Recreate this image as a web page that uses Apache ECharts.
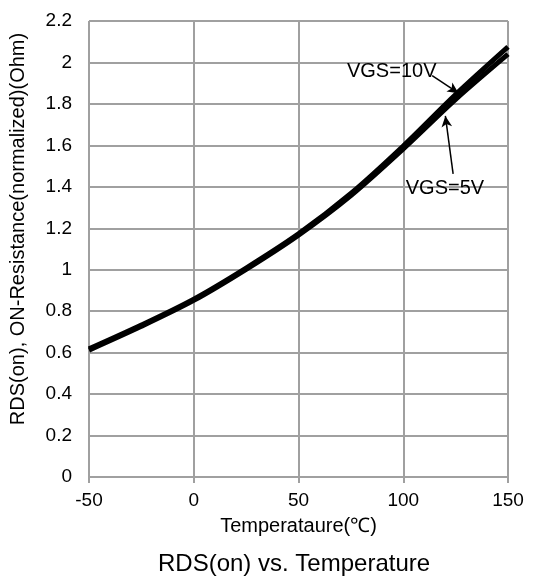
<!DOCTYPE html>
<html style="height: 100%">
<head>
  <meta charset="UTF-8">
  <title>RDS(on) vs. Temperature</title>
  <script src="https://cdn.jsdelivr.net/npm/echarts@6/dist/echarts.min.js"></script>
  <style>
    html, body {
      margin: 0;
      height: 100%;
      width: 100%;
      background: #fff;
    }
    #chart {
      width: 537px;
      height: 587px;
    }
  </style>
</head>
<body>
  <div id="chart"></div>
  <script>
    // data
    const temps = [-50, -25, 0, 25, 50, 75, 100, 125, 150];
    const vgs10 = [0.618, 0.733, 0.858, 1.008, 1.173, 1.368, 1.597, 1.845, 2.075];
    const vgs5 = [0.612, 0.727, 0.852, 1.002, 1.167, 1.358, 1.583, 1.822, 2.040];

    // annotation anchors in data units [temp, value]
    const label10 = [94.5, 1.955];
    const arrow10 = [[113.8, 1.936], [126.4, 1.852]];
    const label5 = [119.9, 1.391];
    const arrow5 = [[123.8, 1.462], [120.1, 1.742]];

    const font = 'Liberation Sans, Arial, sans-serif';
    const gridColor = '#a0a0a0';

    const pairs = (ys) => temps.map((t, i) => [t, ys[i]]);

    const chart = echarts.init(document.getElementById('chart'));
    chart.setOption({
      animation: false,
      textStyle: { fontFamily: font },
      title: {
        text: 'RDS(on) vs. Temperature',
        left: 153,
        top: 547,
        textStyle: { fontSize: 24, fontWeight: 'normal', color: '#000', fontFamily: font }
      },
      grid: { left: 86, top: 21, width: 422, height: 456 },
      xAxis: {
        type: 'value',
        min: -50,
        max: 150,
        interval: 50,
        name: 'Temperataure(℃)',
        nameLocation: 'middle',
        nameGap: 39,
        nameTextStyle: { fontSize: 20, color: '#000', fontFamily: font },
        axisLine: { lineStyle: { color: gridColor, width: 2 } },
        axisTick: { show: true, length: 6, lineStyle: { color: gridColor, width: 2 } },
        axisLabel: { fontSize: 19, color: '#000', margin: 14 },
        splitLine: { show: true, lineStyle: { color: gridColor, width: 2 } }
      },
      yAxis: {
        type: 'value',
        min: 0,
        max: 2.2,
        interval: 0.2,
        name: 'RDS(on), ON-Resistance(normalized)(Ohm)',
        nameLocation: 'middle',
        nameGap: 61,
        nameTextStyle: { fontSize: 20, color: '#000', fontFamily: font, padding: [0, 0, 0, 40] },
        axisLine: { show: true, lineStyle: { color: gridColor, width: 2 } },
        axisTick: { show: true, length: 6, lineStyle: { color: gridColor, width: 2 } },
        axisLabel: { fontSize: 19, color: '#000', margin: 17 },
        splitLine: { show: true, lineStyle: { color: gridColor, width: 2 } }
      },
      series: [
        {
          name: 'VGS=10V',
          type: 'line',
          data: pairs(vgs10),
          smooth: 0.3,
          showSymbol: false,
          lineStyle: { color: '#000', width: 5 },
          markLine: {
            silent: true,
            symbol: ['none', 'arrow'],
            symbolSize: [8, 11],
            label: { show: false },
            lineStyle: { color: '#000', width: 1.5, type: 'solid' },
            data: [[{ coord: arrow10[0] }, { coord: arrow10[1] }]]
          },
          markPoint: {
            silent: true,
            symbolSize: 0,
            label: { show: true, position: 'inside', formatter: 'VGS=10V', fontSize: 20, color: '#000', fontFamily: font },
            data: [{ coord: label10 }]
          }
        },
        {
          name: 'VGS=5V',
          type: 'line',
          data: pairs(vgs5),
          smooth: 0.3,
          showSymbol: false,
          lineStyle: { color: '#000', width: 5 },
          markLine: {
            silent: true,
            symbol: ['none', 'arrow'],
            symbolSize: [8, 11],
            label: { show: false },
            lineStyle: { color: '#000', width: 1.5, type: 'solid' },
            data: [[{ coord: arrow5[0] }, { coord: arrow5[1] }]]
          },
          markPoint: {
            silent: true,
            symbolSize: 0,
            label: { show: true, position: 'inside', formatter: 'VGS=5V', fontSize: 20, color: '#000', fontFamily: font },
            data: [{ coord: label5 }]
          }
        }
      ]
    });
  </script>
</body>
</html>
